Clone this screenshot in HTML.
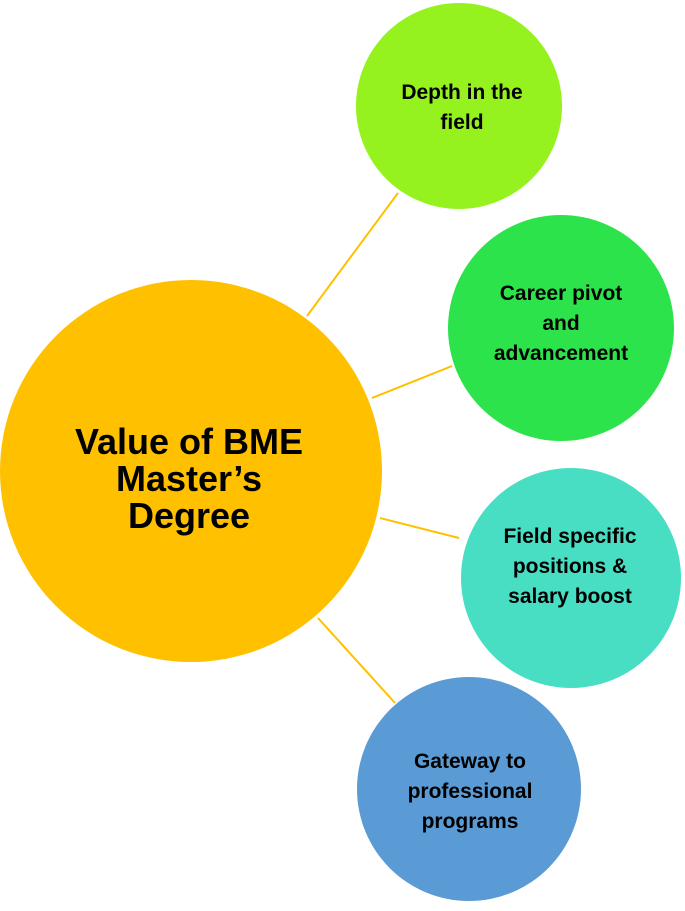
<!DOCTYPE html>
<html><head><meta charset="utf-8"><style>
html,body{margin:0;padding:0;background:#fff;}
body{width:685px;height:906px;overflow:hidden;}
text{font-family:"Liberation Sans",sans-serif;font-weight:bold;fill:#000;text-anchor:middle;}
</style></head><body>
<svg width="685" height="906" viewBox="0 0 685 906" xmlns="http://www.w3.org/2000/svg">
<g stroke="#FFC000" stroke-width="2">
<line x1="307" y1="316" x2="398" y2="193"/>
<line x1="372" y1="398" x2="452" y2="366"/>
<line x1="380" y1="518" x2="459" y2="538"/>
<line x1="318" y1="618" x2="395" y2="703"/>
</g>
<circle cx="191" cy="471" r="191" fill="#FFC000"/>
<circle cx="459" cy="106" r="103" fill="#96F21E"/>
<circle cx="561" cy="328" r="113" fill="#2DE34B"/>
<circle cx="571" cy="578" r="110" fill="#48DEC4"/>
<circle cx="469" cy="789" r="112" fill="#5B9BD5"/>
<g font-size="36" textLength="240">
<text x="189" y="454">Value of BME</text>
<text x="189" y="491">Master’s</text>
<text x="189" y="528">Degree</text>
</g>
<g font-size="21">
<text x="462" y="99">Depth in the</text>
<text x="462" y="129">field</text>
<text x="561" y="300">Career pivot</text>
<text x="561" y="330">and</text>
<text x="561" y="360">advancement</text>
<text x="570" y="543">Field specific</text>
<text x="570" y="573">positions &amp;</text>
<text x="570" y="603">salary boost</text>
<text x="470" y="768">Gateway to</text>
<text x="470" y="798">professional</text>
<text x="470" y="828">programs</text>
</g>
</svg>
</body></html>
